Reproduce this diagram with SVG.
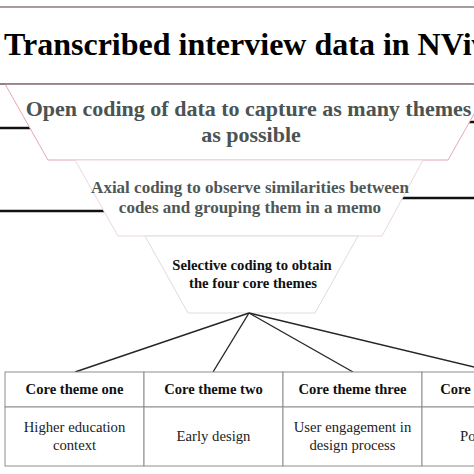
<svg xmlns="http://www.w3.org/2000/svg" width="474" height="474" viewBox="0 0 474 474">
<style>
  .serif{font-family:"Liberation Serif","Times New Roman",serif}
  .bold{font-weight:bold}
  .mid{text-anchor:middle}
  .stub{stroke:#111;stroke-width:2.5}
  .conn{stroke:#262626;stroke-width:1.4;fill:none}
  .cell{fill:#fff;stroke:#8e8e8e;stroke-width:1}
</style>
<rect width="474" height="474" fill="#fff"/>
<g id="title">
  <rect x="-10" y="7" width="494" height="77" fill="#fff" stroke="#8a7a82" stroke-width="1.5"/>
  <text class="serif bold" x="4" y="55" font-size="32" fill="#000">Transcribed interview data in NVivo</text>
</g>
<g id="stubs">
  <line class="stub" x1="0" y1="128" x2="32" y2="128"/>
  <line class="stub" x1="468" y1="122" x2="474" y2="122"/>
  <line class="stub" x1="0" y1="211" x2="104" y2="211"/>
  <line class="stub" x1="402" y1="198" x2="474" y2="198"/>
</g>
<g id="open-coding">
  <polygon points="5,84 491,84 448,160 48,160" fill="#fff" stroke="#e6a6b6" stroke-width="1"/>
  <line x1="-10" y1="84" x2="484" y2="84" stroke="#8a7a82" stroke-width="1.5"/>
  <text class="serif bold mid" x="248.5" y="116" font-size="22" fill="#4b5353">Open coding of data to capture as many themes</text>
  <text class="serif bold mid" x="251" y="142" font-size="22" fill="#4b5353">as possible</text>
</g>
<g id="axial-coding">
  <polygon points="75,160 423,160 382,236 118,236" fill="#fff" stroke="#ead8dc" stroke-width="1"/>
  <text class="serif bold mid" x="250" y="193" font-size="17" fill="#4f5757">Axial coding to observe similarities between</text>
  <text class="serif bold mid" x="250" y="213" font-size="17" fill="#4f5757">codes and grouping them in a memo</text>
</g>
<g id="selective-coding">
  <polygon points="145,236 358,236 315,313 188,313" fill="#fff" stroke="#dcdce6" stroke-width="1"/>
  <text class="serif bold mid" x="252" y="270" font-size="14.7" fill="#111">Selective coding to obtain</text>
  <text class="serif bold mid" x="253" y="288" font-size="14.7" fill="#111">the four core themes</text>
</g>
<g id="connectors">
  <line class="conn" x1="249" y1="313" x2="75" y2="372"/>
  <line class="conn" x1="249" y1="313" x2="213" y2="372"/>
  <line class="conn" x1="249" y1="313" x2="353" y2="372"/>
  <line class="conn" x1="249" y1="313" x2="495" y2="372"/>
</g>
<g id="theme-one">
  <rect class="cell" x="5" y="372" width="139" height="35"/>
  <rect class="cell" x="5" y="407" width="139" height="59"/>
  <text class="serif bold mid" x="74.5" y="394" font-size="14.6" fill="#111">Core theme one</text>
  <text class="serif mid" x="74.5" y="432" font-size="14.7" fill="#222">Higher education</text>
  <text class="serif mid" x="74.5" y="450" font-size="14.7" fill="#222">context</text>
</g>
<g id="theme-two">
  <rect class="cell" x="144" y="372" width="139" height="35"/>
  <rect class="cell" x="144" y="407" width="139" height="59"/>
  <text class="serif bold mid" x="213.5" y="394" font-size="14.6" fill="#111">Core theme two</text>
  <text class="serif mid" x="213.5" y="441" font-size="14.7" fill="#222">Early design</text>
</g>
<g id="theme-three">
  <rect class="cell" x="283" y="372" width="139" height="35"/>
  <rect class="cell" x="283" y="407" width="139" height="59"/>
  <text class="serif bold mid" x="352.5" y="394" font-size="14.6" fill="#111">Core theme three</text>
  <text class="serif mid" x="352.5" y="432" font-size="14.7" fill="#222">User engagement in</text>
  <text class="serif mid" x="352.5" y="450" font-size="14.7" fill="#222">design process</text>
</g>
<g id="theme-four">
  <rect class="cell" x="422" y="372" width="139" height="35"/>
  <rect class="cell" x="422" y="407" width="139" height="59"/>
  <text class="serif bold mid" x="491.5" y="394" font-size="14.6" fill="#111">Core theme four</text>
  <text class="serif" x="460" y="441" font-size="14.7" fill="#222">Po</text>
</g>
</svg>
